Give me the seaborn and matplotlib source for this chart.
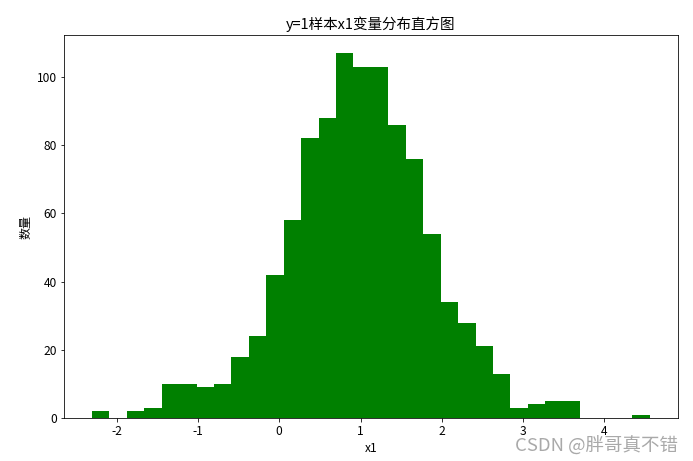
import matplotlib
matplotlib.use("Agg")
import matplotlib.pyplot as plt
import numpy as np
import pandas as pd
import seaborn as sns

# histogram of x1 for the y=1 sample: 32 equal-width bins
bin_start = -2.304
bin_stop = 4.559
counts = [2, 0, 2, 3, 10, 10, 9, 10, 18, 24, 42, 58, 82, 88, 107, 103,
          103, 86, 76, 54, 34, 28, 21, 13, 3, 4, 5, 5, 0, 0, 0, 1]

title = "y=1样本x1变量分布直方图"
x_label = "x1"
y_label = "数量"
watermark = "CSDN @胖哥真不错"

plt.rcParams["font.family"] = ["Noto Sans CJK SC", "DejaVu Sans"]
plt.rcParams["axes.unicode_minus"] = False

edges = np.linspace(bin_start, bin_stop, len(counts) + 1)
df = pd.DataFrame({"x1": (edges[:-1] + edges[1:]) / 2, "n": counts})

fig, ax = plt.subplots(figsize=(693 / 72, 461 / 72), dpi=72)
fig.subplots_adjust(left=0.0924, right=0.978, top=0.924, bottom=0.0933)

sns.histplot(data=df, x="x1", weights="n", bins=edges.tolist(), color="green",
             edgecolor="green", linewidth=0, alpha=1.0, ax=ax)

ax.set_title(title, fontsize=14.5)
ax.set_xlabel(x_label, fontsize=12)
ax.set_ylabel(y_label, fontsize=12)
ax.tick_params(labelsize=12)
ax.set_xticks([-2, -1, 0, 1, 2, 3, 4])
ax.set_yticks([0, 20, 40, 60, 80, 100])

# watermark sits bottom right, partly over the last tick labels as in the source
fig.text(0.978, 0.034, watermark, ha="right", va="center", fontsize=18.5,
         color="#9a9a9a", alpha=0.85)

fig.savefig("out.png", dpi=72)
